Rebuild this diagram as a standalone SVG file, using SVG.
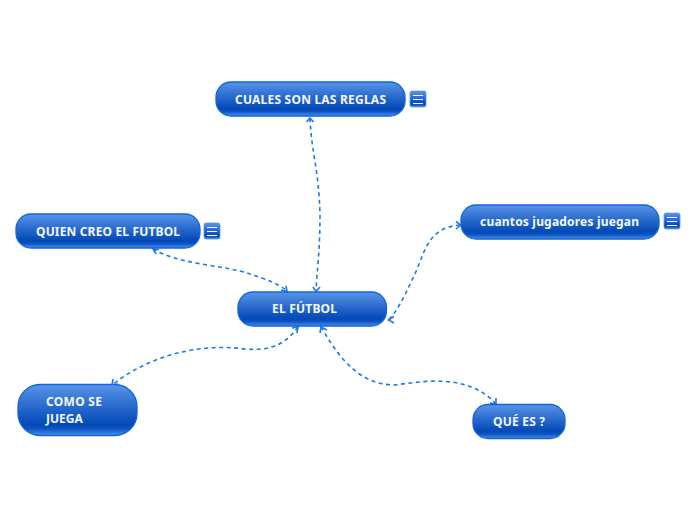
<svg xmlns="http://www.w3.org/2000/svg" width="696" height="520" viewBox="0 0 696 520">
<style>
.n{fill:url(#g);stroke:#0f66dc;stroke-width:1.3}
.t{font-family:"Noto Sans","Open Sans",sans-serif;font-size:12px;font-weight:700;fill:#f4f8fd}
.c{fill:none;stroke:#1a7ae6;stroke-width:1.6;stroke-dasharray:4 3.5}
.a{fill:none;stroke:#1a7ae6;stroke-width:1.6}
.b{fill:url(#g);stroke:#5a96e2;stroke-width:.8}
.l{stroke:#fff;stroke-width:1}
</style>
<defs>
<linearGradient id="g" x1="0" y1="0" x2="0" y2="1">
<stop offset="0" stop-color="#5b96e6"/><stop offset=".12" stop-color="#4c88e0"/><stop offset=".78" stop-color="#0349b8"/><stop offset=".86" stop-color="#0a52c0"/><stop offset="1" stop-color="#4c8ee8"/>
</linearGradient>
</defs>
<g id="connectors">
<path class="c" d="M310 118C311 150 319 170 320 215C320 250 317 270 316 291"/>
<path class="a" d="M306.500 122L310 118L313.500 122M313 287L316 291.500L320 287"/>
<path class="c" d="M153 249C180 265 225 265 250 274C265 279 278 283 287 291"/>
<path class="a" d="M159 249.500L153 249L156 254M281 290L287 291.500L286 286"/>
<path class="c" d="M460 225C425 228 425 255 412 280C404 297 397 312 388 320"/>
<path class="a" d="M456 221.500L460.500 225L456 229M394 316.500L388.500 320L394 323"/>
<path class="c" d="M298 327C285 345 270 351 245 349C200 343 150 355 112 385"/>
<path class="a" d="M292 328L298 327L297 333M113 379L112 385L118 384"/>
<path class="c" d="M321 327C335 350 355 385 395 385C430 380 470 375 496 404"/>
<path class="a" d="M320 333L321 327L327 330M490 403L496 404L496 398"/>
</g>
<g id="node-center"><rect class="n" x="238" y="292" width="148.500" height="34" rx="15"/><text class="t" x="272" y="313" textLength="65">EL FÚTBOL</text></g>
<g id="node-reglas"><rect class="n" x="216" y="82" width="189" height="34" rx="15"/><text class="t" x="235" y="104" textLength="151">CUALES SON LAS REGLAS</text>
<rect class="b" x="410" y="91" width="16" height="16" rx="2"/><path class="l" d="M413 95.500H423M413 99.500H423M413 103.500H423"/></g>
<g id="node-quien"><rect class="n" x="16" y="214" width="184" height="34" rx="15"/><text class="t" x="36" y="236" textLength="144">QUIEN CREO EL FUTBOL</text>
<rect class="b" x="204" y="223" width="16" height="16" rx="2"/><path class="l" d="M207 227.500H217M207 231.500H217M207 235.500H217"/></g>
<g id="node-cuantos"><rect class="n" x="461" y="205" width="198" height="34" rx="15"/><text class="t" x="480" y="226" textLength="159">cuantos jugadores juegan</text>
<rect class="b" x="664" y="213" width="16" height="16" rx="2"/><path class="l" d="M667 217.500H677M667 221.500H677M667 225.500H677"/></g>
<g id="node-como"><rect class="n" x="18" y="384.500" width="119" height="51" rx="22"/><text class="t" x="46" y="406" textLength="56">COMO SE</text><text class="t" x="46" y="423">JUEGA</text></g>
<g id="node-que"><rect class="n" x="473" y="404.500" width="92" height="34" rx="15"/><text class="t" x="493" y="426" textLength="52">QUÉ ES ?</text></g>
</svg>
